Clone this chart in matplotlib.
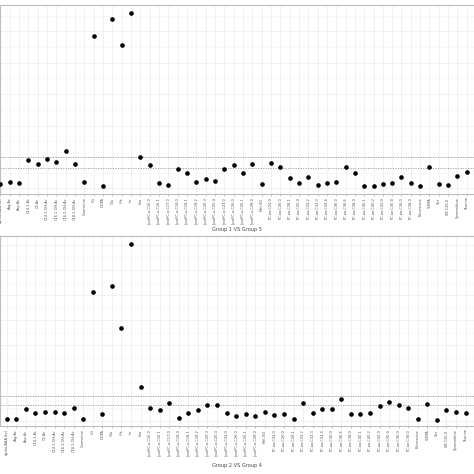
import matplotlib
matplotlib.use("Agg")
import matplotlib.pyplot as plt
import numpy as np

top_labels = [
    "alpha-AAA.Sal", "Arg.Ac", "Asp.Ac", "C14.1.Ac", "C2.Ac", "C14.1.OH.Ac",
    "C16.1.OH.Ac", "C16.2.OH.Ac", "C18.1.OH.Ac", "Carnosine", "Cit", "DOPA",
    "Glu", "His", "Ile", "Leu", "lysoPC.a.C16.0", "lysoPC.a.C16.1",
    "lysoPC.a.C17.0", "lysoPC.a.C18.0", "lysoPC.a.C18.1", "lysoPC.a.C18.2",
    "lysoPC.a.C20.3", "lysoPC.a.C20.4", "lysoPC.a.C24.0", "lysoPC.a.C26.0",
    "lysoPC.a.C26.1", "lysoPC.a.C28.0", "Met.SO", "PC.aa.C24.0", "PC.aa.C26.0",
    "PC.aa.C28.1", "PC.aa.C30.0", "PC.aa.C32.2", "PC.aa.C32.3", "PC.aa.C34.4",
    "PC.aa.C36.0", "PC.aa.C36.6", "PC.aa.C38.0", "PC.aa.C40.1", "PC.aa.C40.2",
    "PC.aa.C42.0", "PC.ae.C30.0", "PC.ae.C36.0", "PC.ae.C38.0", "Putrescine",
    "SDMA", "Ser", "SM.C26.0", "Spermidine", "Taurine",
]
top_values = [
    0.26, 0.43, 0.34, 1.81, 1.53, 1.87, 1.66, 2.38, 1.57, 0.43, 9.72, 0.18,
    10.78, 9.13, 11.16, 2.00, 1.47, 0.34, 0.22, 1.25, 0.96, 0.39, 0.58, 0.49,
    1.23, 1.47, 0.96, 1.57, 0.28, 1.64, 1.36, 0.64, 0.36, 0.74, 0.24, 0.36,
    0.41, 1.34, 0.98, 0.15, 0.15, 0.26, 0.36, 0.71, 0.34, 0.17, 1.38, 0.28,
    0.22, 0.79, 1.02,
]
top_title = "Group 1 VS Group 5"

bottom_labels = [
    "alpha-AAA.Sal", "Arg.Ac", "Asp.Ac", "C14.1.Ac", "C2.Ac", "C14.1.OH.Ac",
    "C16.1.OH.Ac", "C18.1.OH.Ac", "Carnosine", "Cit", "DOPA",
    "Glu", "His", "Ile", "Leu", "lysoPC.a.C16.0", "lysoPC.a.C16.1",
    "lysoPC.a.C17.0", "lysoPC.a.C18.0", "lysoPC.a.C18.1", "lysoPC.a.C18.2",
    "lysoPC.a.C20.3", "lysoPC.a.C20.4", "lysoPC.a.C24.0", "lysoPC.a.C26.0",
    "lysoPC.a.C26.1", "lysoPC.a.C28.0", "Met.SO", "PC.aa.C24.0", "PC.aa.C26.0",
    "PC.aa.C28.1", "PC.aa.C32.2", "PC.aa.C32.3", "PC.aa.C34.4",
    "PC.aa.C36.0", "PC.aa.C36.6", "PC.aa.C38.0", "PC.aa.C40.1", "PC.aa.C40.2",
    "PC.aa.C42.0", "PC.ae.C30.0", "PC.ae.C36.0", "PC.ae.C38.0", "Putrescine",
    "SDMA", "Ser", "SM.C26.0", "Spermidine", "Taurine",
]
bottom_values = [
    0.15, 0.15, 0.97, 0.63, 0.68, 0.71, 0.60, 1.00, 0.13, 10.25, 0.53, 10.73,
    7.39, 14.07, 2.72, 1.00, 0.87, 1.42, 0.23, 0.65, 0.87, 1.24, 1.29, 0.65,
    0.41, 0.57, 0.39, 0.68, 0.47, 0.55, 0.18, 1.40, 0.65, 0.97, 0.92, 1.74,
    0.53, 0.55, 0.65, 1.16, 1.53, 1.26, 1.03, 0.15, 1.37, 0.05, 0.89, 0.68,
    0.63,
]
bottom_title = "Group 2 VS Group 4"

thresholds = [1.3, 2.0]

W = H = 474
fig = plt.figure(figsize=(4.74, 4.74), dpi=100)


def px_axes(x0, y0, x1, y1):
    return fig.add_axes([x0 / W, 1 - y1 / H, (x1 - x0) / W, (y1 - y0) / H])


def draw(ax, labels, values, xlim, ylim, title, title_y):
    x = np.arange(len(labels))
    ax.set_xticks(x)
    ax.set_xticklabels(labels, rotation=90, fontsize=2.6, color="#555555")
    ax.set_yticks(np.arange(0, 16, 2))
    ax.set_yticks(np.arange(1, 16, 2), minor=True)
    ax.tick_params(axis="y", which="both", left=False, labelleft=False)
    ax.tick_params(axis="x", length=1.5, width=0.4, color="#999999", pad=1)
    ax.grid(True, axis="x", color="#ececec", linewidth=0.5)
    ax.grid(True, axis="y", which="major", color="#ececec", linewidth=0.5)
    ax.grid(True, axis="y", which="minor", color="#f5f5f5", linewidth=0.4)
    ax.set_axisbelow(True)
    for s in ax.spines.values():
        s.set_color("#bdbdbd")
        s.set_linewidth(0.8)
    for t in thresholds:
        ax.axhline(t, color="#9a9a9a", linestyle=(0, (1.5, 1.5)), linewidth=0.6)
    ax.scatter(x, values, s=11, color="black", zorder=3, linewidths=0)
    ax.set_xlim(*xlim)
    ax.set_ylim(*ylim)
    fig.text(237 / W, 1 - title_y / H, title, ha="center", va="center",
             fontsize=3.6, color="#444444")


# top panel: category i at px 0.3 + 9.33*i; value v at py 188.4 - 15.71*v
ax1 = px_axes(0, 5, 474, 194)
draw(ax1, top_labels, top_values,
     ((0 - 0.3) / 9.33, (474 - 0.3) / 9.33),
     ((188.4 - 194) / 15.71, (188.4 - 5) / 15.71),
     top_title, 229)

# bottom panel: category j at px 6.7 + 9.56*j; value v at py 420.9 - 12.57*v
ax2 = px_axes(0, 236, 474, 426)
draw(ax2, bottom_labels, bottom_values,
     ((0 - 6.7) / 9.56, (474 - 6.7) / 9.56),
     ((420.9 - 426) / 12.57, (420.9 - 236) / 12.57),
     bottom_title, 466)

fig.savefig("out.png", dpi=100, facecolor="white")
